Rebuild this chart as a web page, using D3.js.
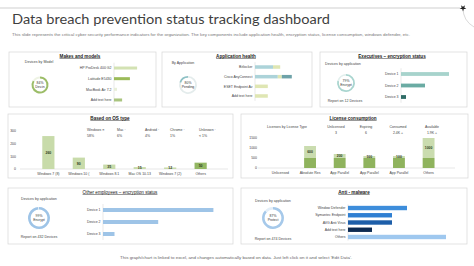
<!DOCTYPE html>
<html>
<head>
<meta charset="utf-8">
<script src="https://cdn.jsdelivr.net/npm/d3@7"></script>
<style>
  body { margin: 0; background: #fff; }
  svg { display: block; font-family: "Liberation Sans", Arial, sans-serif; }
</style>
</head>
<body>
<script>
// ---- data ----
const makesCats = ["HP ProDesk 400 G2", "Latitude E5430", "MacBook Air 7.2", "Add text here"];
const makesVals = [77, 53, 10, 27];
const makesPct = 84;

const appCats = ["Bitlocker", "Cisco AnyConnect", "ESET  Endpoint Av", "Add text here"];
const appA = [45, 57, 0, 0];
const appB = [18, 10, 32, 32];
const appC = [0, 25, 0, 0];
const appPct = 80;

const execCats = ["Device 1", "Device 2", "Device 3"];
const execVals = [96, 48, 10];
const execPct = 79;

const osCats = ["Windows 7 (8)", "Windows 10 (", "Windows 8.1", "Mac OS 10.13", "Windows 7 (2)", "Others"];
const osVals = [260, 90, 35, 15, 12, 50];
const osTicks = [0, 100, 200, 300];
const osLegend = [["Windows ≡", "58%"], ["Mac  ·", "6%"], ["Android  ·", "4%"], ["Chrome  ·", "1%"], ["Unknown  ·", "< 1%"]];

const licCats = ["Unlicensed", "Absolute Res", "App Parallel", "App Parallel ", "App Parallel  ", "Others"];
const licBase = [0, 500, 500, 500, 500, 500];
const licTop = [0, 600, 200, 100, 100, 1000];
const licTicks = [0, 500, 1000, 1500];
const licHeads = [["Unlicensed", "3"], ["Expiring", "6"], ["Consumed", "2.4K +"], ["Available", "1.9K +"]];

const otherCats = ["Device 1", "Device 2", "Device 3"];
const otherVals = [96, 48, 10];
const otherPct = 99;

const malCats = ["Window Defender", "Symantec Endpoint", "AVG Anti Virus", "Add text here", "Others"];
const malVals = [59, 44, 44, 24, 98];
const malColors = ["#3d8ddb", "#2f7fd2", "#1d5ea9", "#0c2a52", "#9fc8ef"];
const malPct = 87;

// ---- page ----
const W = 474, H = 266;
const svg = d3.select("body").append("svg").attr("width", W).attr("height", H);

// top rule + star ornament
svg.append("line").attr("x1", 0).attr("x2", 460).attr("y1", 8).attr("y2", 8)
  .attr("stroke", "#cfcfcf").attr("stroke-width", 1);
svg.append("path").attr("d", "M463,8 A22,22 0 0,0 474,27")
  .attr("fill", "none").attr("stroke", "#cfcfcf").attr("stroke-width", 0.8);
const star = d3.symbol().type(d3.symbolStar).size(14);
svg.append("path").attr("d", star()).attr("transform", "translate(463,8) rotate(36)").attr("fill", "#222");

svg.append("text").attr("x", 12).attr("y", 24)
  .attr("font-family", "Lato, 'DejaVu Sans', sans-serif")
  .attr("font-size", 13.5).attr("fill", "#3f3f3f")
  .attr("textLength", 318).attr("lengthAdjust", "spacingAndGlyphs")
  .text("Data breach prevention status tracking dashboard");

svg.append("text").attr("x", 12).attr("y", 35.5).attr("font-size", 3.4).attr("fill", "#777")
  .attr("textLength", 398).attr("lengthAdjust", "spacingAndGlyphs")
  .text("This slide represents the critical cyber security performance indicators for the organization. The key components include application health, encryption status, license consumption, windows defender, etc.");

svg.append("text").attr("x", 120).attr("y", 258.5).attr("font-size", 3.4).attr("fill", "#666")
  .attr("textLength", 232).attr("lengthAdjust", "spacingAndGlyphs")
  .text("This graph/chart is linked to excel, and changes automatically based on data. Just left click on it and select 'Edit Data'.");

// ---- helpers ----
function panel(x, y, w, h, title, tx, bold = true) {
  svg.append("rect").attr("x", x).attr("y", y).attr("width", w).attr("height", h)
    .attr("fill", "#fff").attr("stroke", "#d6d6d6").attr("stroke-width", 0.7);
  svg.append("text").attr("x", tx).attr("y", y + 5.5).attr("text-anchor", "middle")
    .attr("font-size", 4.6).attr("font-weight", bold ? "bold" : "normal")
    .attr("text-decoration", "underline").attr("fill", "#222").text(title);
}

function small(x, y, t, anchor = "middle", size = 3.6, fill = "#444") {
  return svg.append("text").attr("x", x).attr("y", y).attr("text-anchor", anchor)
    .attr("font-size", size).attr("fill", fill).text(t);
}

function donut(cx, cy, r, th, pct, colOn, colOff, l1, l2) {
  const pie = d3.pie().sort(null).value(d => d);
  const arc = d3.arc().innerRadius(r - th).outerRadius(r);
  const g = svg.append("g").attr("transform", `translate(${cx},${cy})`);
  g.selectAll("path").data(pie([pct, 100 - pct])).join("path")
    .attr("d", arc).attr("fill", (d, i) => i === 0 ? colOn : colOff);
  g.append("text").attr("y", -0.6).attr("text-anchor", "middle").attr("font-size", 3.4).attr("fill", "#333").text(l1);
  g.append("text").attr("y", 3.4).attr("text-anchor", "middle").attr("font-size", 3.4).attr("fill", "#333").text(l2);
}

function hBars(cats, series, colors, o) {
  const y = d3.scalePoint().domain(cats).range([o.top, o.bottom]).padding(0.5);
  const x = d3.scaleLinear().domain([0, o.max]).range([o.left, o.right]);
  const stacked = d3.stack().keys(d3.range(series.length))(cats.map((c, i) => series.map(s => s[i])));
  svg.append("line").attr("x1", o.left).attr("x2", o.left).attr("y1", o.top).attr("y2", o.bottom)
    .attr("stroke", "#d0d0d0").attr("stroke-width", 0.5);
  stacked.forEach((layer, k) => {
    svg.append("g").selectAll("rect").data(layer).join("rect")
      .attr("x", d => x(d[0])).attr("width", d => x(d[1]) - x(d[0]))
      .attr("y", (d, i) => y(cats[i]) - o.bh / 2).attr("height", o.bh)
      .attr("fill", (d, i) => typeof colors[k] === "function" ? colors[k](i) : colors[k]);
  });
  svg.append("g").selectAll("text").data(cats).join("text")
    .attr("x", o.left - 2.5).attr("y", d => y(d) + 1.2).attr("text-anchor", "end")
    .attr("font-size", 3.5).attr("fill", "#444").text(d => d.trim());
}

// ---- Makes and models ----
panel(9, 52, 147, 55, "Makes and models", 80);
small(39, 63, "Devices by Model");
donut(40, 85, 8.5, 2, makesPct, "#9cbd68", "#eef3e4", makesPct + "%", "Dev.in");
const makesCols = ["#d3e2b3", "#9bbb59", "#e8efd9", "#a9c47f"];
hBars(makesCats, [makesVals], [i => makesCols[i]], { top: 62.7, bottom: 105.3, left: 114, right: 144, max: 100, bh: 3 });

// ---- Application health ----
panel(162, 52, 150, 55, "Application health", 236);
small(183, 64, "By Application");
donut(188, 85, 9, 1.8, appPct, "#e4ecec", "#8ec1c5", appPct + "%", "Pending");
hBars(appCats, [appA, appB, appC], ["#acd3d9", "#dfe6b3", "#6ea2a8"], { top: 62.2, bottom: 100.8, left: 255, right: 295, max: 100, bh: 3.5 });

// ---- Executives encryption ----
panel(320, 52, 147, 55, "Executives – encryption status", 392);
small(343, 65, "Devices by application");
donut(346, 83, 9, 1.8, execPct, "#a9d5cf", "#e2efed", execPct + "%", "Encrypt");
small(345, 102, "Report on 12 Devices");
const execCols = ["#a7d3cc", "#6aaba3", "#2f6c66"];
hBars(execCats, [execVals], [i => execCols[i]], { top: 68.25, bottom: 102.75, left: 401, right: 451, max: 100, bh: 3.8 });

// ---- Based on OS type ----
panel(8, 114, 225, 64, "Based on OS type", 110);
{
  const x = d3.scaleBand().domain(osCats).range([24, 225]).padding(0.6);
  const y = d3.scaleLinear().domain([0, 300]).range([169, 131]);
  svg.append("line").attr("x1", 20).attr("x2", 228).attr("y1", y(0)).attr("y2", y(0))
    .attr("stroke", "#cfcfcf").attr("stroke-width", 0.5);
  svg.append("g").selectAll("text").data(osTicks).join("text")
    .attr("x", 16).attr("y", d => y(d) + 1.2).attr("text-anchor", "end")
    .attr("font-size", 3.5).attr("fill", "#444").text(d => d);
  svg.append("g").selectAll("rect").data(osVals).join("rect")
    .attr("x", (d, i) => x(osCats[i])).attr("width", x.bandwidth())
    .attr("y", d => y(d)).attr("height", d => y(0) - y(d))
    .attr("fill", (d, i) => i === osVals.length - 1 ? "#93b763" : "#c8dbaa");
  svg.append("g").selectAll("text.v").data(osVals).join("text")
    .attr("x", (d, i) => x(osCats[i]) + x.bandwidth() / 2).attr("y", d => (y(d) + y(0)) / 2 + 1.2)
    .attr("text-anchor", "middle").attr("font-size", 3.5).attr("font-weight", "bold").attr("fill", "#2d3a1c")
    .text(d => d);
  svg.append("g").selectAll("text.c").data(osCats).join("text")
    .attr("x", d => x(d) + x.bandwidth() / 2).attr("y", 175)
    .attr("text-anchor", "middle").attr("font-size", 3.5).attr("fill", "#444").text(d => d);
  const lx = [87, 117, 145, 170, 199];
  osLegend.forEach((l, i) => {
    small(lx[i], 131, l[0], "start", 3.5);
    small(lx[i], 137, l[1], "start", 3.5);
  });
}

// ---- License consumption ----
panel(241, 114, 227, 64, "License consumption", 353);
{
  const x = d3.scaleBand().domain(licCats).range([256.7, 452.3]).padding(0.6);
  const y = d3.scaleLinear().domain([0, 1500]).range([168, 138]);
  svg.append("line").attr("x1", 258).attr("x2", 455).attr("y1", y(0)).attr("y2", y(0))
    .attr("stroke", "#cfcfcf").attr("stroke-width", 0.5);
  svg.append("g").selectAll("text").data(licTicks).join("text")
    .attr("x", 257).attr("y", d => y(d) + 1.2).attr("text-anchor", "end")
    .attr("font-size", 3.5).attr("fill", "#444").text(d => d);
  const stack = d3.stack().keys([0, 1])(licCats.map((c, i) => [licBase[i], licTop[i]]));
  const cols = ["#8fb35d", "#cadcaf"];
  stack.forEach((layer, k) => {
    svg.append("g").selectAll("rect").data(layer).join("rect")
      .attr("x", (d, i) => x(licCats[i])).attr("width", x.bandwidth())
      .attr("y", d => y(d[1])).attr("height", d => y(d[0]) - y(d[1]))
      .attr("fill", cols[k]);
  });
  svg.append("g").selectAll("text.v").data(stack[1]).join("text")
    .attr("x", (d, i) => x(licCats[i]) + x.bandwidth() / 2).attr("y", d => (y(d[0]) + y(d[1])) / 2 + 1.2)
    .attr("text-anchor", "middle").attr("font-size", 3.4).attr("font-weight", "bold").attr("fill", "#2d3a1c")
    .text((d, i) => licTop[i] ? licTop[i] : "");
  svg.append("g").selectAll("text.c").data(licCats).join("text")
    .attr("x", d => x(d) + x.bandwidth() / 2).attr("y", 173.5)
    .attr("text-anchor", "middle").attr("font-size", 3.5).attr("fill", "#444").text(d => d.trim());
  small(287, 127.5, "Licenses by License Type", "middle", 3.5);
  const hx = [336, 366, 398, 432];
  licHeads.forEach((h, i) => {
    small(hx[i], 127.5, h[0], "middle", 3.5);
    small(hx[i], 133.5, h[1], "middle", 3.5);
  });
}

// ---- Other employees encryption ----
panel(8, 188, 225, 56, "Other employees – encryption status", 120, false);
small(39, 200, "Devices by application");
donut(39, 218, 11, 2.6, otherPct, "#9ec4e7", "#e3eef8", otherPct + "%", "Encrypt");
small(39, 238, "Report on 432 Devices");
hBars(otherCats, [otherVals], ["#9ec4e7"], { top: 204, bottom: 240, left: 103, right: 218, max: 100, bh: 4 });

// ---- Anti malware ----
panel(241, 188, 226, 56, "Anti - malware", 354);
small(273, 201.5, "Devices by application");
donut(273, 218, 11, 2.6, malPct, "#a6c9ea", "#e3eef8", malPct + "%", "Protect");
small(273, 239.5, "Report on 474 Devices");
hBars(malCats, [malVals], [i => malColors[i]], { top: 204.4, bottom: 240.6, left: 348, right: 448, max: 100, bh: 4.4 });
</script>
</body>
</html>
